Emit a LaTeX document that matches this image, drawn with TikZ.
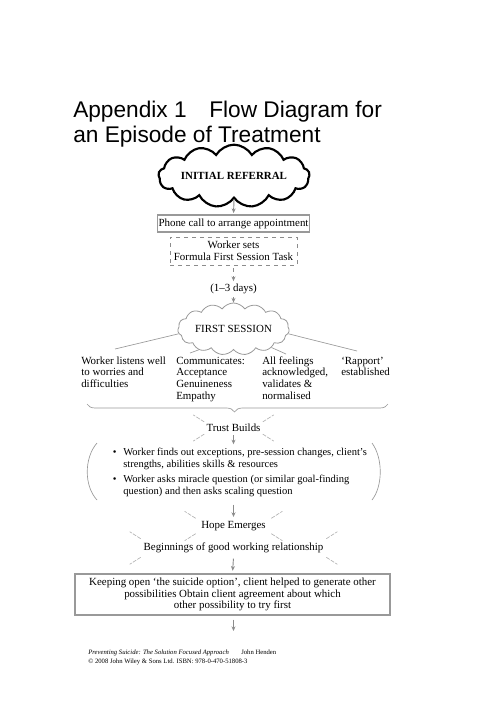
\documentclass[tikz,border=0pt]{standalone}
\usepackage{fontspec}
\setmainfont{Liberation Serif}
\newfontfamily\titlefont{Liberation Sans}
\usepackage{tikz}
\usetikzlibrary{shapes.symbols}
\usetikzlibrary{decorations.pathreplacing}
\usetikzlibrary{arrows.meta}
\usepackage{xcolor}

\begin{document}
\begin{tikzpicture}[x=0.75pt, y=-0.75pt]
        % ================= 样式定义 =================
        \tikzset{
            % 标题:无衬线大字
            ttl/.style={font=\titlefont\fontsize{17}{19}\selectfont, anchor=base west, inner sep=0pt},
            % 正文
            txt/.style={font=\fontsize{8.2}{8.8}\selectfont, inner sep=1pt, align=center},
            col/.style={txt, anchor=base west, inner sep=0pt},
            % 方框
            plainbox/.style={txt, draw=black!40, line width=0.9pt},
            dashbox/.style={txt, draw=black!45, dashed, line width=0.5pt},
            % 云
            refcloud/.style={txt, cloud, cloud puffs=13, cloud puff arc=120, cloud ignores aspect,
                draw=black, line width=1.6pt, minimum width=91pt, minimum height=47pt,
                font=\fontsize{8.2}{8.8}\selectfont\bfseries},
            sesscloud/.style={txt, cloud, cloud puffs=15, cloud puff arc=110, cloud ignores aspect,
                draw=black!40, line width=0.6pt, minimum width=79pt, minimum height=39pt},
            % 箭头与线
            flow/.style={draw=black!45, line width=0.7pt, -{Stealth[length=3.5pt, width=3pt]}},
            dflow/.style={flow, dashed},
            spoke/.style={draw=black!40, line width=0.5pt},
            burst/.style={draw=black!30, line width=0.5pt, dash pattern=on 3pt off 1pt},
            foot/.style={font=\fontsize{5}{6}\selectfont, anchor=base west, inner sep=0pt}
        }

        \useasboundingbox (0,0) rectangle (485,703);

        % ================= 1. 标题 =================
        \node[ttl] (ttl1) at (73,117) {Appendix 1\quad Flow Diagram for};
        \node[ttl] (ttl2) at (73,142) {an Episode of Treatment};

        % ================= 2. 上半部分 =================
        \node[refcloud] (ref) at (234,176) {INITIAL REFERRAL};
        \node[plainbox, minimum width=112.5pt, minimum height=12.75pt] (phone) at (233.5,223.5)
            {Phone call to arrange appointment};
        \node[dashbox, minimum width=95.25pt, minimum height=21pt] (task) at (233.5,251)
            {Worker sets\\Formula First Session Task};
        \node[txt] (days) at (233.5,289) {(1--3 days)};
        \node[sesscloud] (sess) at (233.5,329) {FIRST SESSION};

        % --- 四列 ---
        \node[col] (c1) at (81,364) {\begin{tabular}[t]{@{}l@{}}Worker listens well\\to worries and\\difficulties\end{tabular}};
        \node[col] (c2) at (176,364) {\begin{tabular}[t]{@{}l@{}}Communicates:\\Acceptance\\Genuineness\\Empathy\end{tabular}};
        \node[col] (c3) at (262,364) {\begin{tabular}[t]{@{}l@{}}All feelings\\acknowledged,\\validates \&\\normalised\end{tabular}};
        \node[col] (c4) at (341,364) {\begin{tabular}[t]{@{}l@{}}`Rapport'\\established\end{tabular}};

        \coordinate (s1) at (115,349);
        \coordinate (s2) at (190,353);
        \coordinate (s3) at (286,354);
        \coordinate (s4) at (357,351);
        \coordinate (bl) at (87,404);
        \coordinate (br) at (388,404);

        % ================= 3. 下半部分 =================
        \node[txt, inner sep=1.5pt] (tb) at (233.5,428) {Trust Builds};
        \node[col, inner sep=2pt, font=\fontsize{7.9}{8.9}\selectfont] (bul) at (110,455.5) {\begin{tabular}[t]{@{}l@{\hspace{5pt}}l@{}}
            \textbullet & Worker finds out exceptions, pre-session changes, client's\\
                        & strengths, abilities skills \& resources\\[2.2pt]
            \textbullet & Worker asks miracle question (or similar goal-finding\\
                        & question) and then asks scaling question
            \end{tabular}};
        \node[txt, inner xsep=4pt, inner ysep=2pt] (hope) at (233.5,526) {Hope Emerges};
        \node[txt, inner xsep=2pt, inner ysep=3pt] (begin) at (233.5,548) {Beginnings of good working relationship};
        \node[plainbox, minimum width=236.25pt, minimum height=30.75pt] (plan) at (232.5,594.5)
            {Keeping open `the suicide option', client helped to generate other\\
             possibilities Obtain client agreement about which\\
             other possibility to try first};
        \coordinate (out) at (233.5,631);

        % ================= 4. 连线 =================
        \draw[flow, shorten >=1pt] (ref.south) -- (phone.north);
        \draw[dflow, shorten <=2pt, shorten >=1pt] (task.south) -- (days.north);
        \draw[dflow, shorten <=1pt] (days.south) -- (sess.north);

        \draw[spoke] (sess.185) -- (s1);
        \draw[spoke] (sess.211) -- (s2);
        \draw[spoke] (sess.-26) -- (s3);
        \draw[spoke] (sess.-5) -- (s4);

        % 大括号
        \draw[spoke, decorate, decoration={brace, mirror, amplitude=6pt, aspect=0.49}] (bl) -- (br);

        \draw[flow, shorten <=1pt] (tb.south) -- (tb.south |- bul.north);
        \draw[flow, shorten <=3pt, shorten >=1pt] (bul.south -| hope) -- (hope.north);
        \draw[flow, shorten <=1pt, shorten >=2pt] (begin.south) -- (plan.north);
        \draw[flow, shorten <=3pt] (plan.south -| out) -- (out);

        % 圆括号
        \draw[spoke] (97,443) .. controls (84,458) and (84,486) .. (97,500);
        \draw[spoke] (372,443) .. controls (383,458) and (383,486) .. (372,500);

        % 放射虚线
        \foreach \n in {tb,hope,begin} {
            \draw[burst] (\n.north west) -- ++(-11,-7);
            \draw[burst] (\n.north east) -- ++(11,-7);
            \draw[burst] (\n.south west) -- ++(-11,7);
            \draw[burst] (\n.south east) -- ++(11,7);
        }

        % ================= 5. 页脚 =================
        \node[foot] (foot1) at (88,654) {\itshape Preventing Suicide: The Solution Focused Approach};
        \node[foot] (foot2) at (241,654) {John Henden};
        \node[foot] (foot3) at (88,663) {© 2008 John Wiley \& Sons Ltd. ISBN: 978-0-470-51808-3};

    \end{tikzpicture}
\end{document}
